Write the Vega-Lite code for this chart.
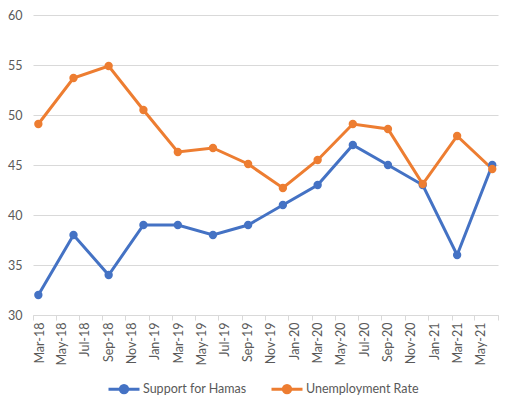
{
  "$schema": "https://vega.github.io/schema/vega-lite/v6.json",
  "autosize": {"type": "none"},
  "padding": {"left": 33, "top": 15, "right": 18, "bottom": 93},
  "width": 465,
  "height": 300,
  "background": "white",
  "config": {
    "view": {"stroke": null},
    "font": "Lato",
    "axis": {"labelFont": "Lato", "labelColor": "#595959", "labelFontSize": 12.5},
    "legend": {"labelFont": "Lato", "labelColor": "#595959", "labelFontSize": 12.5}
  },
  "data": {
    "values": [
      {"date": "2018-03-01", "series": "Support for Hamas", "value": 32},
      {"date": "2018-06-01", "series": "Support for Hamas", "value": 38},
      {"date": "2018-09-01", "series": "Support for Hamas", "value": 34},
      {"date": "2018-12-01", "series": "Support for Hamas", "value": 39},
      {"date": "2019-03-01", "series": "Support for Hamas", "value": 39},
      {"date": "2019-06-01", "series": "Support for Hamas", "value": 38},
      {"date": "2019-09-01", "series": "Support for Hamas", "value": 39},
      {"date": "2019-12-01", "series": "Support for Hamas", "value": 41},
      {"date": "2020-03-01", "series": "Support for Hamas", "value": 43},
      {"date": "2020-06-01", "series": "Support for Hamas", "value": 47},
      {"date": "2020-09-01", "series": "Support for Hamas", "value": 45},
      {"date": "2020-12-01", "series": "Support for Hamas", "value": 43},
      {"date": "2021-03-01", "series": "Support for Hamas", "value": 36},
      {"date": "2021-06-01", "series": "Support for Hamas", "value": 45},
      {"date": "2018-03-01", "series": "Unemployment Rate", "value": 49.1},
      {"date": "2018-06-01", "series": "Unemployment Rate", "value": 53.7},
      {"date": "2018-09-01", "series": "Unemployment Rate", "value": 54.9},
      {"date": "2018-12-01", "series": "Unemployment Rate", "value": 50.5},
      {"date": "2019-03-01", "series": "Unemployment Rate", "value": 46.3},
      {"date": "2019-06-01", "series": "Unemployment Rate", "value": 46.7},
      {"date": "2019-09-01", "series": "Unemployment Rate", "value": 45.1},
      {"date": "2019-12-01", "series": "Unemployment Rate", "value": 42.7},
      {"date": "2020-03-01", "series": "Unemployment Rate", "value": 45.5},
      {"date": "2020-06-01", "series": "Unemployment Rate", "value": 49.1},
      {"date": "2020-09-01", "series": "Unemployment Rate", "value": 48.6},
      {"date": "2020-12-01", "series": "Unemployment Rate", "value": 43.1},
      {"date": "2021-03-01", "series": "Unemployment Rate", "value": 47.9},
      {"date": "2021-06-01", "series": "Unemployment Rate", "value": 44.6}
    ]
  },
  "mark": {"type": "line", "strokeWidth": 3, "point": {"filled": true, "size": 70}},
  "encoding": {
    "x": {
      "field": "date",
      "type": "temporal",
      "scale": {
        "type": "utc",
        "domain": [
          {"year": 2018, "month": 2, "date": 15, "utc": true},
          {"year": 2021, "month": 6, "date": 16, "utc": true}
        ]
      },
      "axis": {
        "title": null,
        "grid": false,
        "domainColor": "#D9D9D9",
        "tickColor": "#D9D9D9",
        "tickSize": 5,
        "labelAngle": 270,
        "labelPadding": 2,
        "labelOffset": 6,
        "labelExpr": "datum.value > utc(2021, 5, 1) ? '' : utcFormat(datum.value + 1728000000, '%b-%y')",
        "values": [
          {"year": 2018, "month": 2, "date": 15, "utc": true},
          {"year": 2018, "month": 4, "date": 15, "utc": true},
          {"year": 2018, "month": 6, "date": 15, "utc": true},
          {"year": 2018, "month": 8, "date": 15, "utc": true},
          {"year": 2018, "month": 10, "date": 15, "utc": true},
          {"year": 2018, "month": 12, "date": 15, "utc": true},
          {"year": 2019, "month": 2, "date": 15, "utc": true},
          {"year": 2019, "month": 4, "date": 15, "utc": true},
          {"year": 2019, "month": 6, "date": 15, "utc": true},
          {"year": 2019, "month": 8, "date": 15, "utc": true},
          {"year": 2019, "month": 10, "date": 15, "utc": true},
          {"year": 2019, "month": 12, "date": 15, "utc": true},
          {"year": 2020, "month": 2, "date": 15, "utc": true},
          {"year": 2020, "month": 4, "date": 15, "utc": true},
          {"year": 2020, "month": 6, "date": 15, "utc": true},
          {"year": 2020, "month": 8, "date": 15, "utc": true},
          {"year": 2020, "month": 10, "date": 15, "utc": true},
          {"year": 2020, "month": 12, "date": 15, "utc": true},
          {"year": 2021, "month": 2, "date": 15, "utc": true},
          {"year": 2021, "month": 4, "date": 15, "utc": true},
          {"year": 2021, "month": 6, "date": 16, "utc": true}
        ]
      }
    },
    "y": {
      "field": "value",
      "type": "quantitative",
      "scale": {"domain": [30, 60], "nice": false, "zero": false},
      "axis": {
        "title": null,
        "values": [30, 35, 40, 45, 50, 55, 60],
        "domain": false,
        "ticks": false,
        "labelPadding": 11,
        "gridColor": "#D9D9D9",
        "gridWidth": 1
      }
    },
    "color": {
      "field": "series",
      "type": "nominal",
      "scale": {
        "domain": ["Support for Hamas", "Unemployment Rate"],
        "range": ["#4472C4", "#ED7D31"]
      },
      "legend": {
        "title": null,
        "orient": "none",
        "direction": "horizontal",
        "legendX": 74,
        "legendY": 357,
        "symbolType": "M-1,0L1,0M-0.24,0A0.24,0.24,0,1,1,0.24,0A0.24,0.24,0,1,1,-0.24,0Z",
        "symbolSize": 961,
        "symbolStrokeWidth": 3,
        "labelOffset": 2,
        "columnPadding": 18,
        "encode": {
          "symbols": {"update": {"fill": {"scale": "color", "field": "value"}}}
        }
      }
    }
  }
}
